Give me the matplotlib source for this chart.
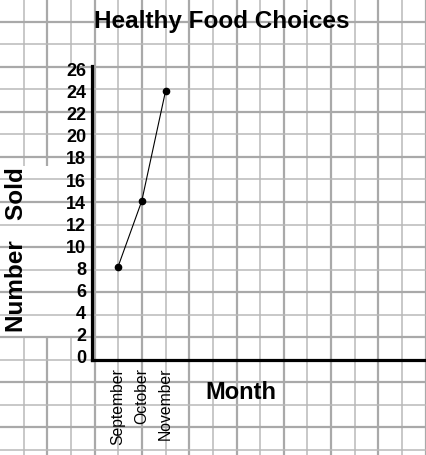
import matplotlib
matplotlib.use("Agg")
import matplotlib.pyplot as plt
import numpy as np

plt.rcParams['font.family'] = ['Liberation Sans', 'DejaVu Sans']

# ---- data ----
months = ["September", "October", "November"]
sold = [8, 14, 24]
yticks = list(range(0, 27, 2))
title = "Healthy Food Choices"
xlabel = "Month"
ylabel = "Number   Sold"

W, H = 426, 456
fig = plt.figure(figsize=(W / 100, H / 100), dpi=100)
fig.patch.set_facecolor("white")

# ---- graph-paper background (pixel coordinates) ----
bg = fig.add_axes([0, 0, 1, 1])
bg.set_xlim(0, W)
bg.set_ylim(H, 0)
bg.axis("off")
sx, sy = 23.65, 22.55
for k in range(1, 19):
    x = sx * k
    lw = 1.6 if k % 2 == 0 else 1.1
    col = "#a9a9a9" if k % 2 == 0 else "#b9b9b9"
    if k in (1, 2):
        segs = [(0, 167), (338, H)]
    elif k == 3:
        segs = [(0, 65), (338, H)]
    else:
        segs = [(0, H)]
    for y0, y1 in segs:
        bg.plot([x, x], [y0, y1], color=col, lw=lw, solid_capstyle="butt", zorder=0)
for k in range(1, 21):
    y = sy * k
    lw = 1.6 if k % 2 == 1 else 1.1
    col = "#a9a9a9" if k % 2 == 1 else "#b9b9b9"
    bg.plot([0, W], [y, y], color=col, lw=lw, solid_capstyle="butt", zorder=0)

# ---- main chart ----
left, right, top, bottom = 92, 426, 67, 361
ax = fig.add_axes([left / W, (H - bottom) / H, (right - left) / W, (bottom - top) / H])
ax.patch.set_alpha(0)
x = np.arange(len(months))
ax.plot(x, sold, color="black", lw=0.8, marker="o", markersize=4.5, zorder=3)
ax.set_xlim(-1.09, 12.94)
ax.set_ylim(-0.45, 26.27)
ax.set_xticks(x)
ax.set_xticklabels(months, rotation=90, va="top", ha="center", fontsize=11.3)
ax.set_yticks(yticks)
ax.set_yticklabels([str(v) for v in yticks], fontsize=13, fontweight="bold")
ax.tick_params(axis="both", length=0)
ax.tick_params(axis="y", pad=4.3)
ax.tick_params(axis="x", pad=5)
for s in ("top", "right"):
    ax.spines[s].set_visible(False)
for s in ("left", "bottom"):
    ax.spines[s].set_linewidth(2.3)
    ax.spines[s].set_color("black")

fig.text(222 / W, 1 - 21.5 / H, title, ha="center", va="center",
         fontsize=17.5, fontweight="bold")
fig.text(241 / W, 1 - 393 / H, xlabel, ha="center", va="center",
         fontsize=17, fontweight="bold")
fig.text(17 / W, 1 - 250 / H, ylabel, ha="center", va="center", rotation=90,
         fontsize=17.5, fontweight="bold")

fig.savefig("out.png", dpi=100)
